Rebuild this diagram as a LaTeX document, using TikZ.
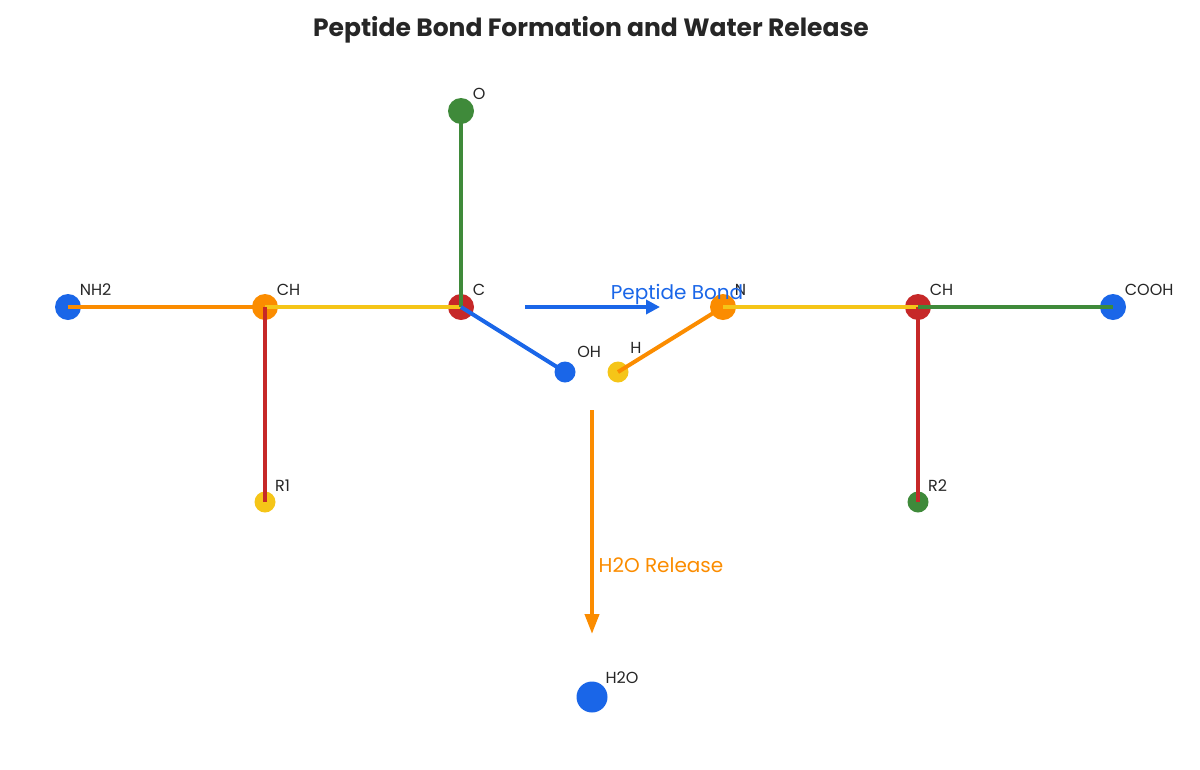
\documentclass[tikz,border=0pt]{standalone}
\usepackage{fontspec}
\setmainfont{Poppins}
\usetikzlibrary{arrows.meta}
\definecolor{cblue}{HTML}{1A66E8}
\definecolor{corange}{HTML}{FB8C00}
\definecolor{cred}{HTML}{C62828}
\definecolor{cgreen}{HTML}{3F8A3A}
\definecolor{cyellow}{HTML}{F5C518}
\begin{document}
\begin{tikzpicture}[x=1pt, y=-1pt, thick,
    atom/.style = {circle, inner sep=0pt, minimum size=26pt},
    small/.style = {circle, inner sep=0pt, minimum size=21pt},
    bond/.style = {line width=4pt},
    lbl/.style = {font=\fontsize{16}{18}\selectfont, text=black!85, anchor=south west, inner sep=2pt}]
    \useasboundingbox (0,0) rectangle (1200,769);
    \node[font=\bfseries\fontsize{25}{28}\selectfont, text=black!85] (title) at (591,30) {Peptide Bond Formation and Water Release};
    % atoms
    \node[atom, fill=cblue] (nh2) at (68,307) {};
    \node[atom, fill=corange] (ch1) at (265,307) {};
    \node[atom, fill=cred] (c) at (461,307) {};
    \node[atom, fill=cgreen] (o) at (461,111) {};
    \node[small, fill=cblue] (oh) at (565,372) {};
    \node[small, fill=cyellow] (h) at (618,372) {};
    \node[atom, fill=corange] (n) at (723,307) {};
    \node[atom, fill=cred] (ch2) at (918,307) {};
    \node[atom, fill=cblue] (cooh) at (1113,307) {};
    \node[small, fill=cyellow] (r1) at (265,502) {};
    \node[small, fill=cgreen] (r2) at (918,502) {};
    \node[atom, minimum size=31pt, fill=cblue] (h2o) at (592,697) {};
    % labels
    \node[lbl] at (nh2.north east) {NH2};
    \node[lbl] at (ch1.north east) {CH};
    \node[lbl] at (c.north east) {C};
    \node[lbl] at (o.north east) {O};
    \node[lbl] at (575,360) {OH};
    \node[lbl] at (628,356) {H};
    \node[lbl] at (n.north east) {N};
    \node[lbl] at (ch2.north east) {CH};
    \node[lbl] at (cooh.north east) {COOH};
    \node[lbl] at (r1.north east) {R1};
    \node[lbl] at (r2.north east) {R2};
    \node[lbl] at (h2o.north east) {H2O};
    % bonds
    \draw[bond, corange] (nh2.center) -- (ch1.center);
    \draw[bond, cyellow] (ch1.center) -- (c.center);
    \draw[bond, cred] (ch1.center) -- (r1.center);
    \draw[bond, cgreen] (c.center) -- (o.center);
    \draw[bond, cblue] (c.center) -- (oh.center);
    \draw[bond, corange] (h.center) -- (n.center);
    \draw[bond, cyellow] (n.center) -- (ch2.center);
    \draw[bond, cred] (ch2.center) -- (r2.center);
    \draw[bond, cgreen] (ch2.center) -- (cooh.center);
    % reaction arrows
    \coordinate (pb1) at (525,307);
    \coordinate (pb2) at (660,307);
    \coordinate (w1) at (592,410);
    \coordinate (w2) at (592,634);
    \draw[bond, cblue, -{Triangle[length=14pt, width=14pt]}] (pb1) -- (pb2);
    \draw[bond, corange, -{Triangle[length=20pt, width=14pt]}] (w1) -- (w2);
    \node[text=cblue, font=\fontsize{20}{22}\selectfont] (pbl) at (677,294) {Peptide Bond};
    \node[text=corange, font=\fontsize{20}{22}\selectfont] (wl) at (661,565) {H2O Release};
\end{tikzpicture}
\end{document}
